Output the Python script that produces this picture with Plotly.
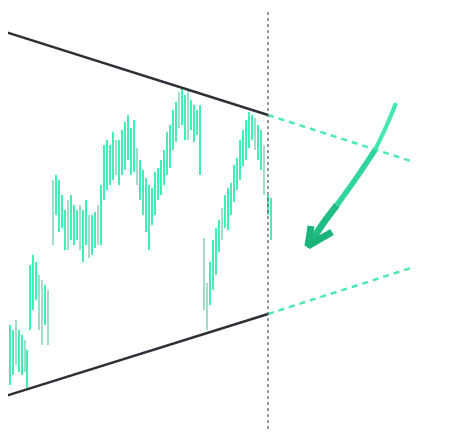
import plotly.graph_objects as go

# Price bars (x position, high, low) and direction (1 = up / bright, 0 = down / muted)
bar_x = [1, 4, 7, 10, 13, 16, 19, 22, 25, 27, 30, 33, 36, 39, 42, 45, 48,
         53, 56, 59, 62, 65, 68, 71, 74, 77, 80, 83, 86, 89, 92, 95, 98, 101,
         104, 107, 110, 113, 116, 119, 122, 125, 128, 131, 134, 137, 140, 143,
         146, 149, 152, 155, 158, 161, 164, 167, 170, 173, 176, 179, 182, 185,
         188, 191, 194, 197, 200, 204, 207, 210, 213, 216, 219, 222, 225, 228,
         231, 234, 237, 240, 243, 246, 249, 252, 255, 258, 261, 264, 268, 271]
bar_high = [114, 134, 119, 109, 104, 114, 104, 99, 94, 84, 169, 179, 172, 159, 154, 149, 144,
            254, 259, 254, 239, 224, 234, 239, 229, 224, 229, 224, 234, 219, 219, 222, 229, 249,
            289, 294, 289, 302, 294, 294, 304, 312, 319, 306, 314, 286, 274, 264,
            256, 249, 246, 262, 266, 274, 284, 302, 309, 324, 332, 342, 346, 339,
            344, 334, 329, 324, 329, 196, 151, 172, 194, 206, 214, 226, 239, 246,
            251, 269, 276, 294, 304, 314, 322, 319, 316, 309, 304, 289, 239, 236]
bar_low = [54, 64, 74, 49, 59, 69, 62, 59, 62, 44, 104, 124, 134, 104, 89, 109, 89,
           189, 219, 202, 206, 184, 184, 194, 189, 194, 184, 172, 189, 176, 179, 186, 189, 189,
           234, 244, 249, 254, 259, 249, 259, 264, 274, 259, 262, 249, 234, 219,
           202, 184, 209, 219, 234, 239, 249, 259, 266, 284, 292, 306, 309, 294,
           294, 304, 292, 299, 259, 124, 104, 129, 144, 159, 182, 194, 206, 204,
           219, 232, 244, 254, 268, 274, 286, 294, 284, 274, 264, 239, 219, 194]
bar_up = [1, 0, 1, 1, 1, 0, 1, 1, 0, 1, 1, 1, 1, 0, 0, 1, 0,
          0, 1, 1, 1, 1, 0, 1, 1, 1, 0, 1, 1, 0, 1, 1, 0, 1,
          1, 1, 1, 1, 0, 1, 1, 1, 1, 1, 1, 0, 1, 1,
          1, 1, 1, 1, 1, 1, 1, 1, 1, 1, 1, 0, 1, 1,
          0, 1, 1, 1, 1, 0, 0, 1, 1, 1, 1, 0, 1, 1,
          1, 1, 1, 1, 1, 1, 1, 1, 0, 1, 1, 0, 1, 1]

# Triangle boundaries (x, price)
upper_x = [-4, 268]
upper_y = [405, 319]
lower_x = [-4, 268]
lower_y = [35, 120]
upper_proj_x = [268, 414]
upper_proj_y = [319, 272]
lower_proj_x = [268, 414]
lower_proj_y = [120, 167]
breakout_x = [268, 268]
breakout_y = [422, 2]

# Arrow path
arrow_x = [396, 386, 375, 357, 337, 322, 312]
arrow_y = [331, 307, 284, 257, 229, 209, 193]
head_x = [311, 308, 332]
head_y = [208, 188, 202]

UP = "#3ff0b2"
DOWN = "#a3dcc7"

fig = go.Figure()

fig.add_trace(go.Bar(
    x=bar_x,
    y=[h - l for h, l in zip(bar_high, bar_low)],
    base=bar_low,
    width=2.0,
    marker=dict(color=[UP if u else DOWN for u in bar_up], line=dict(width=0)),
    hoverinfo="skip",
))

fig.add_trace(go.Scatter(x=upper_x, y=upper_y, mode="lines",
                         line=dict(color="#2e3038", width=2.5), hoverinfo="skip"))
fig.add_trace(go.Scatter(x=lower_x, y=lower_y, mode="lines",
                         line=dict(color="#2e3038", width=2.5), hoverinfo="skip"))
fig.add_trace(go.Scatter(x=upper_proj_x, y=upper_proj_y, mode="lines",
                         line=dict(color="#4de8b8", width=2.5, dash="6px,5px"), hoverinfo="skip"))
fig.add_trace(go.Scatter(x=lower_proj_x, y=lower_proj_y, mode="lines",
                         line=dict(color="#4de8b8", width=2.5, dash="6px,5px"), hoverinfo="skip"))
fig.add_trace(go.Scatter(x=breakout_x, y=breakout_y, mode="lines",
                         line=dict(color="#55575f", width=1.2, dash="dot"), hoverinfo="skip"))

# Arrow shaft: smooth spline pieces, thickening and darkening toward the head
pieces = [(0, 3, "#44e8ae", 4.2), (2, 5, "#30d59c", 5.6), (4, 7, "#20bd85", 6.8)]
for a, b, col, w in pieces:
    fig.add_trace(go.Scatter(
        x=arrow_x[a:b], y=arrow_y[a:b], mode="lines",
        line=dict(color=col, width=w, shape="spline", smoothing=1.0),
        hoverinfo="skip"))
fig.add_trace(go.Scatter(x=head_x, y=head_y, mode="lines",
                         line=dict(color="#1bb47c", width=7), hoverinfo="skip"))

# The page body has an 8px margin; ranges are offset so marks land where intended
fig.update_layout(
    width=474, height=434,
    margin=dict(l=0, r=0, t=0, b=0),
    paper_bgcolor="white", plot_bgcolor="white",
    showlegend=False, bargap=0,
    xaxis=dict(range=[8, 482], visible=False, fixedrange=True),
    yaxis=dict(range=[-8, 426], visible=False, fixedrange=True),
)

fig.write_html("out.html", config={"displayModeBar": False})
